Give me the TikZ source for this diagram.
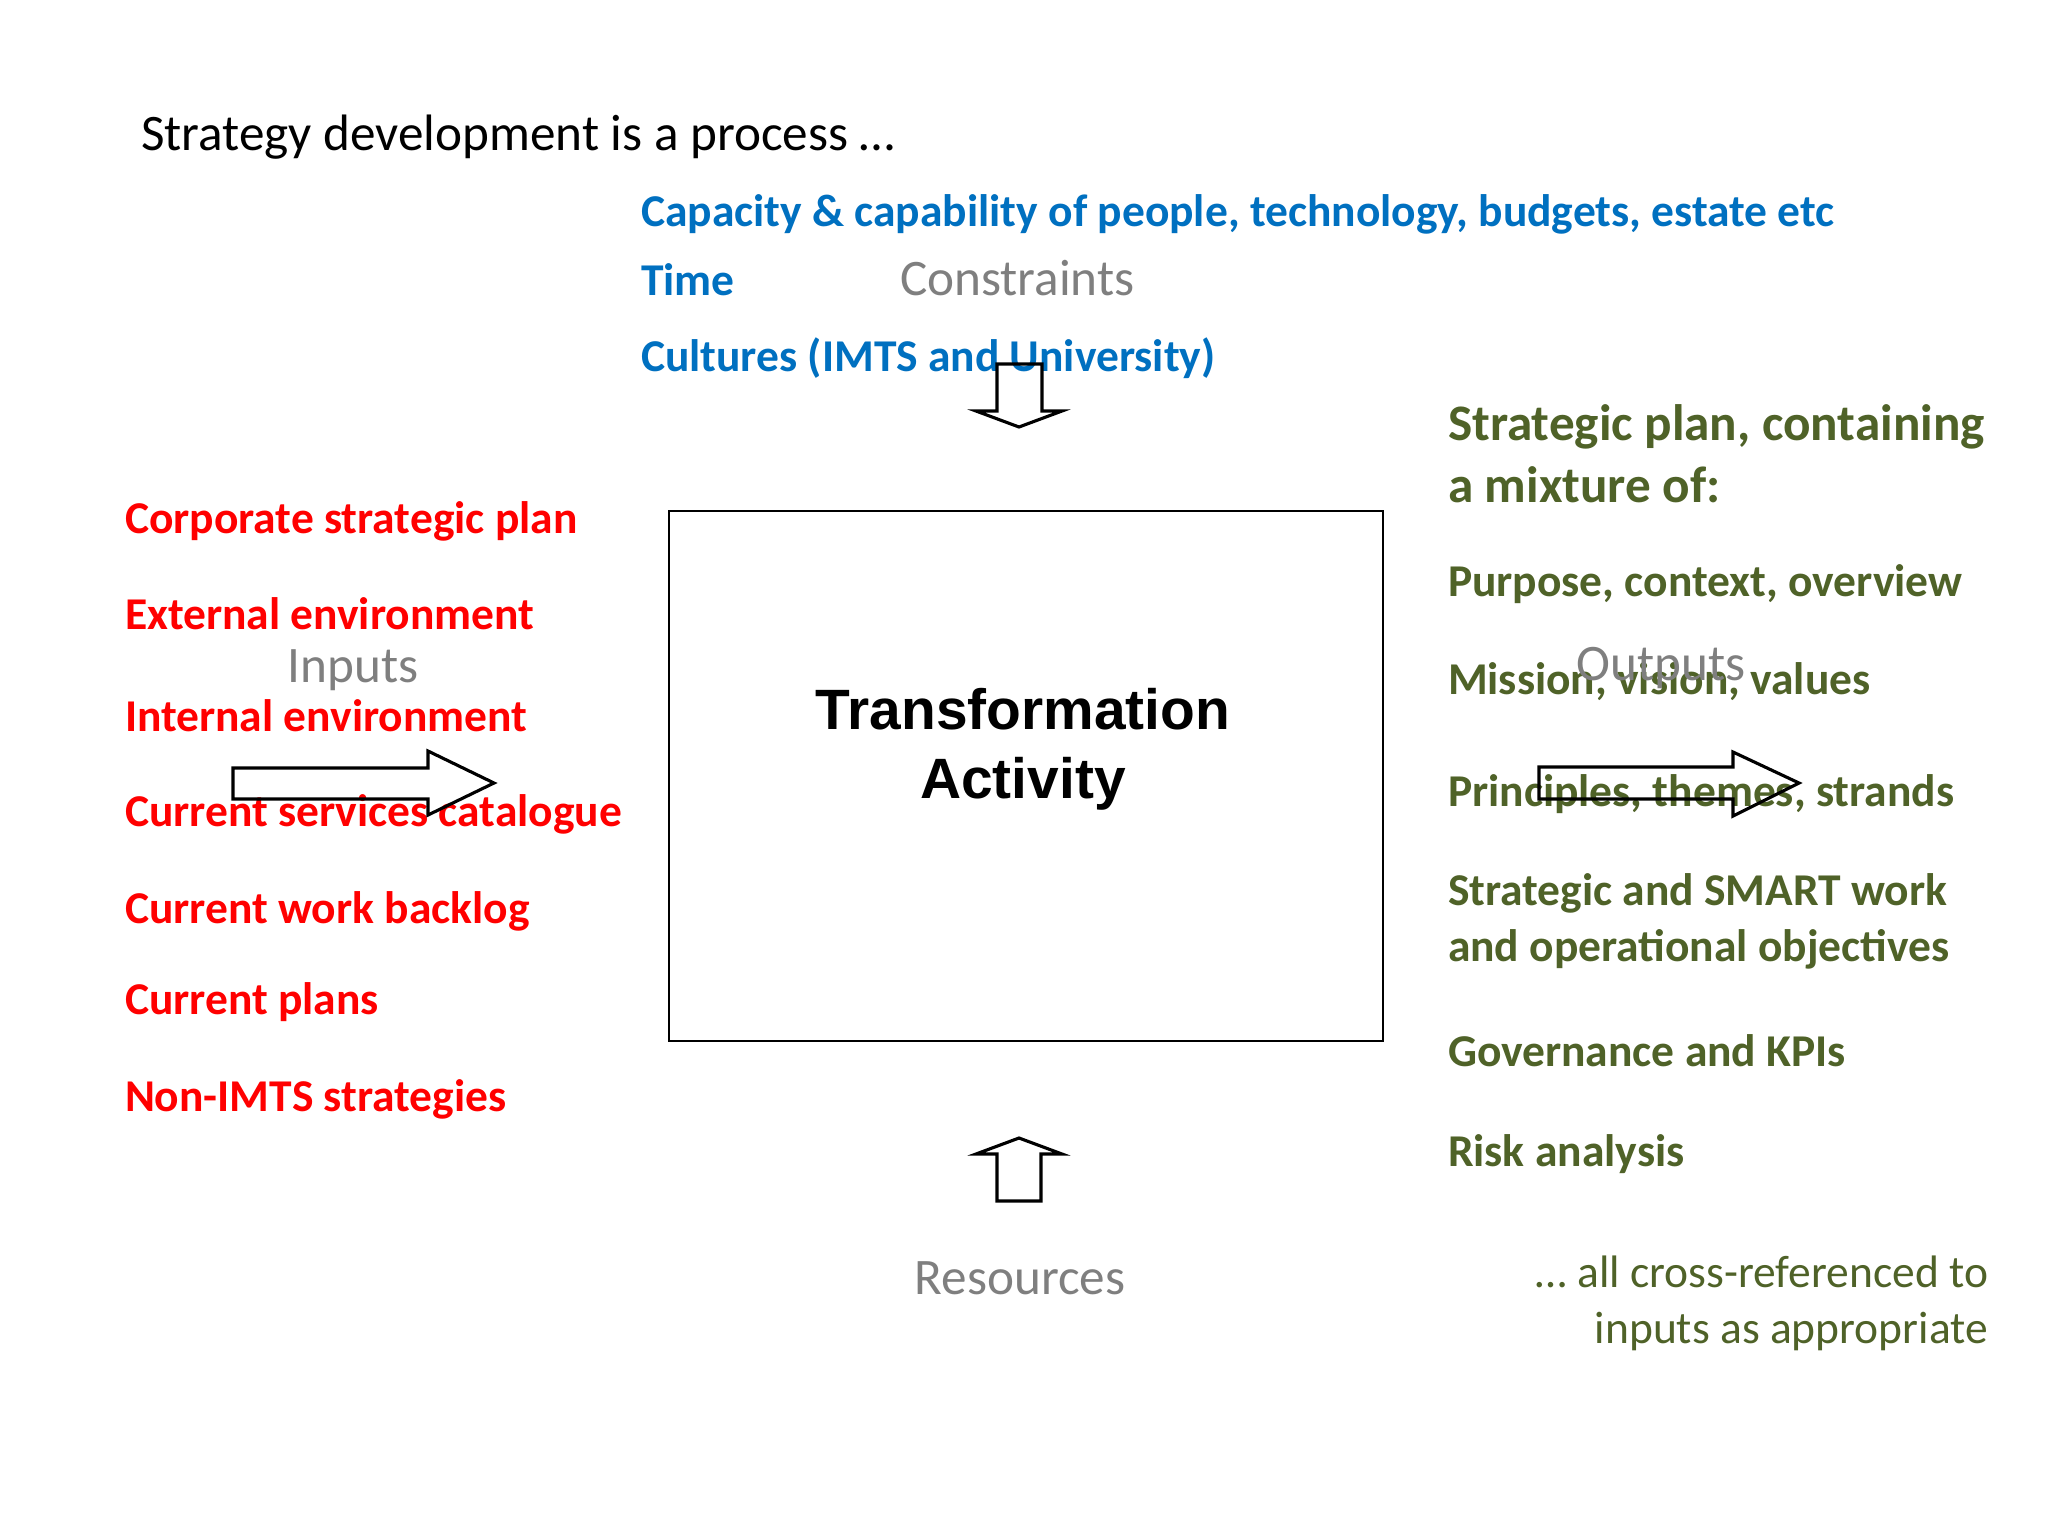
\documentclass[tikz,border=0pt]{standalone}
\usepackage{fontspec}
\setmainfont{Carlito}
\newfontfamily\arialfont{Liberation Sans}
\usepackage{tikz}
\definecolor{capblue}{HTML}{0070C0}
\definecolor{inred}{HTML}{FF0000}
\definecolor{outgreen}{HTML}{4F6228}
\definecolor{labelgray}{HTML}{7F7F7F}

\begin{document}
\begin{tikzpicture}[x=0.3516pt, y=-0.3516pt,
  every node/.style={inner sep=0pt, outer sep=0pt},
  heading/.style={font=\fontsize{18}{21.6}\selectfont, anchor=base west},
  constraint/.style={text=capblue, font=\bfseries\fontsize{16}{19.2}\selectfont, anchor=base west},
  input/.style={text=inred, font=\bfseries\fontsize{16}{19.2}\selectfont, anchor=base west},
  output/.style={text=outgreen, font=\bfseries\fontsize{16}{19.4}\selectfont, anchor=base west, align=left},
  caption/.style={text=labelgray, font=\fontsize{18}{21.6}\selectfont, anchor=base},
  blockarrow/.style={draw=black, line width=1.1pt, line join=miter}]

% --- Page (slide) area ---
\fill[white] (0,0) rectangle (2048,1536);
\useasboundingbox (0,0) rectangle (2048,1536);

% --- Title ---
\node[heading] (title) at (141,150) {Strategy development is a process \dots};

% --- Constraints (top) ---
\node[constraint] (capacity) at (641,226) {Capacity \& capability of people, technology, budgets, estate etc};
\node[constraint] (time) at (641,295) {Time};
\node[caption, anchor=base west] (constraints) at (900,295) {Constraints};
\node[constraint] (cultures) at (641,371) {Cultures (IMTS and University)};

% --- Transformation box ---
\draw[line width=1pt] (669,511) rectangle (1383,1041);
\node[font=\arialfont\bfseries\fontsize{20}{24}\selectfont, align=center, anchor=base] (transform) at (1023,798) {Transformation\\Activity};

% --- Inputs (left) ---
\node[input] (corporate) at (125,533) {Corporate strategic plan};
\node[input] (external) at (125,629) {External environment};
\node[input] (internal) at (125,731) {Internal environment};
\node[input] (services) at (125,826) {Current services catalogue};
\node[input] (backlog) at (125,923) {Current work backlog};
\node[input] (plans) at (125,1014) {Current plans};
\node[input] (nonimts) at (125,1111) {Non-IMTS strategies};
\node[caption] (inputs) at (353,682) {Inputs};

% --- Outputs (right) ---
\node[output, font=\bfseries\fontsize{18}{21.8}\selectfont] (stratplan) at (1448,502) {Strategic plan, containing\\a mixture of:};
\node[output] (purpose) at (1448,596) {Purpose, context, overview};
\node[output] (mission) at (1448,694) {Mission, vision, values};
\node[output] (principles) at (1448,806) {Principles, themes, strands};
\node[output] (smart) at (1448,961) {Strategic and SMART work\\and operational objectives};
\node[output] (governance) at (1448,1066) {Governance and KPIs};
\node[output] (risk) at (1448,1166) {Risk analysis};
\node[caption] (outputs) at (1661,680) {Outputs};
\node[text=outgreen, font=\fontsize{16}{19.4}\selectfont, align=right, anchor=base east] (crossref) at (1988,1343) {\dots\ all cross-referenced to\\inputs as appropriate};

% --- Resources (bottom) ---
\node[caption] (resources) at (1020,1294) {Resources};

% --- Block arrows ---
% constraints in
\draw[blockarrow] (997,364) -- (1042,364) -- (1042,411) -- (1062,411) -- (1019,427) -- (976,411) -- (997,411) -- cycle;
% resources in
\draw[blockarrow] (997,1201) -- (1041,1201) -- (1041,1154) -- (1062,1154) -- (1019,1138) -- (976,1154) -- (997,1154) -- cycle;
% inputs in
\draw[blockarrow] (233,768) -- (428,768) -- (428,751) -- (494,783) -- (428,815) -- (428,799) -- (233,799) -- cycle;
% outputs out
\draw[blockarrow] (1539,767) -- (1733,767) -- (1733,752) -- (1799,783) -- (1733,816) -- (1733,799) -- (1539,799) -- cycle;

\end{tikzpicture}
\end{document}
